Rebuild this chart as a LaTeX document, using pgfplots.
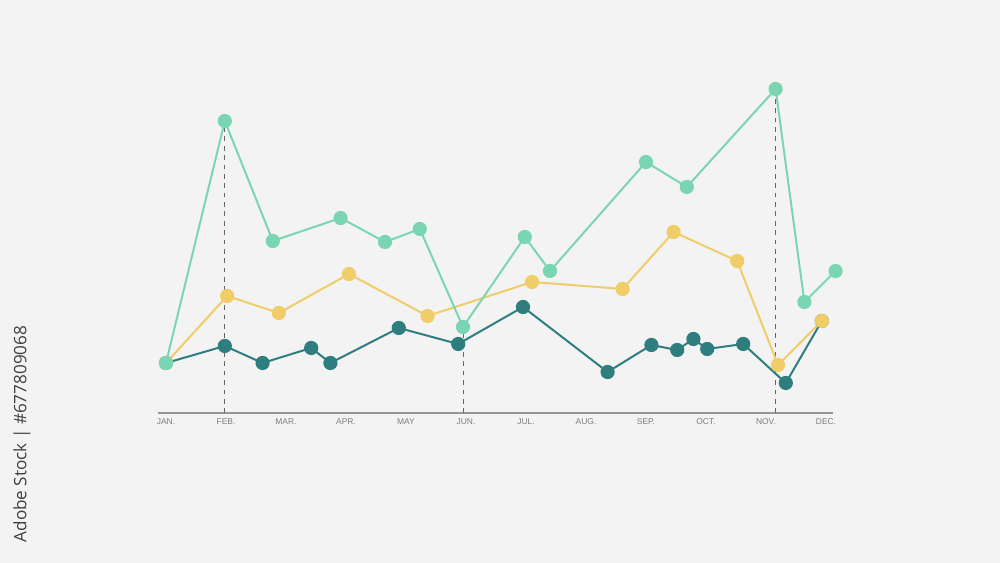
\documentclass[border=0pt]{standalone}
\usepackage{pgfplots}
\pgfplotsset{compat=1.18}
\usepackage{fontspec}
\setmainfont{Liberation Sans}
\newfontfamily\wmfont{Open Sans}
\definecolor{bg}{RGB}{243,243,243}
\definecolor{cgreen}{RGB}{122,214,178}
\definecolor{cyellow}{RGB}{240,205,104}
\definecolor{cteal}{RGB}{46,126,128}
\definecolor{caxis}{RGB}{150,150,150}
\definecolor{clabel}{RGB}{125,125,125}
\begin{document}
\begin{tikzpicture}
\begin{axis}[
  width=15cm, height=8.445cm, scale only axis,
  xmin=-2.7667, xmax=13.9, ymin=-150, ymax=413,
  axis lines=none, ticks=none, clip=false,
  axis background/.style={fill=bg},
]
% x axis line
\addplot[caxis, line width=0.6pt] coordinates {(-0.133,0) (11.12,0)};
% dashed guides
\addplot[black!60, dashed, line width=0.4pt, dash pattern=on 2pt off 2pt] coordinates {(0.98,0) (0.98,292)};
\addplot[black!60, dashed, line width=0.4pt, dash pattern=on 2pt off 2pt] coordinates {(4.95,0) (4.95,86)};
\addplot[black!60, dashed, line width=0.4pt, dash pattern=on 2pt off 2pt] coordinates {(10.15,0) (10.15,324)};
% dark teal
\addplot[cteal, line width=0.85pt, mark=*, mark size=2.6pt, mark options={fill=cteal, draw=cteal}] coordinates {
(0,50) (0.98,67) (1.61,50) (2.42,65) (2.74,50) (3.88,85) (4.87,69) (5.95,106) (7.36,41) (8.09,68) (8.52,63) (8.79,74) (9.02,64) (9.62,69) (10.33,30) (10.93,92)};
% yellow
\addplot[cyellow, line width=0.85pt, mark=*, mark size=2.6pt, mark options={fill=cyellow, draw=cyellow}] coordinates {
(0,50) (1.02,117) (1.88,100) (3.05,139) (4.36,97) (6.10,131) (7.61,124) (8.46,181) (9.52,152) (10.20,48) (10.93,92)};
% green
\addplot[cgreen, line width=0.85pt, mark=*, mark size=2.6pt, mark options={fill=cgreen, draw=cgreen}] coordinates {
(0,50) (0.98,292) (1.78,172) (2.91,195) (3.65,171) (4.23,184) (4.95,86) (5.98,176) (6.40,142) (8.00,251) (8.68,226) (10.16,324) (10.64,111) (11.16,142)};
% month labels
\foreach \m [count=\i from 0] in {JAN.,FEB.,MAR.,APR.,MAY,JUN.,JUL.,AUG.,SEP.,OCT.,NOV.,DEC.} {
  \edef\tmp{\noexpand\node[text=clabel, font=\noexpand\fontsize{3.6}{4}\noexpand\selectfont, inner sep=0pt] at (axis cs:\i,-9) {\m};}
  \tmp
}
\node[rotate=90, text=black!75, font=\wmfont\fontsize{7.3}{8}\selectfont, inner sep=0pt] at (axis cs:-2.4,-21) {Adobe Stock | \#677809068};
\end{axis}
\end{tikzpicture}
\end{document}
